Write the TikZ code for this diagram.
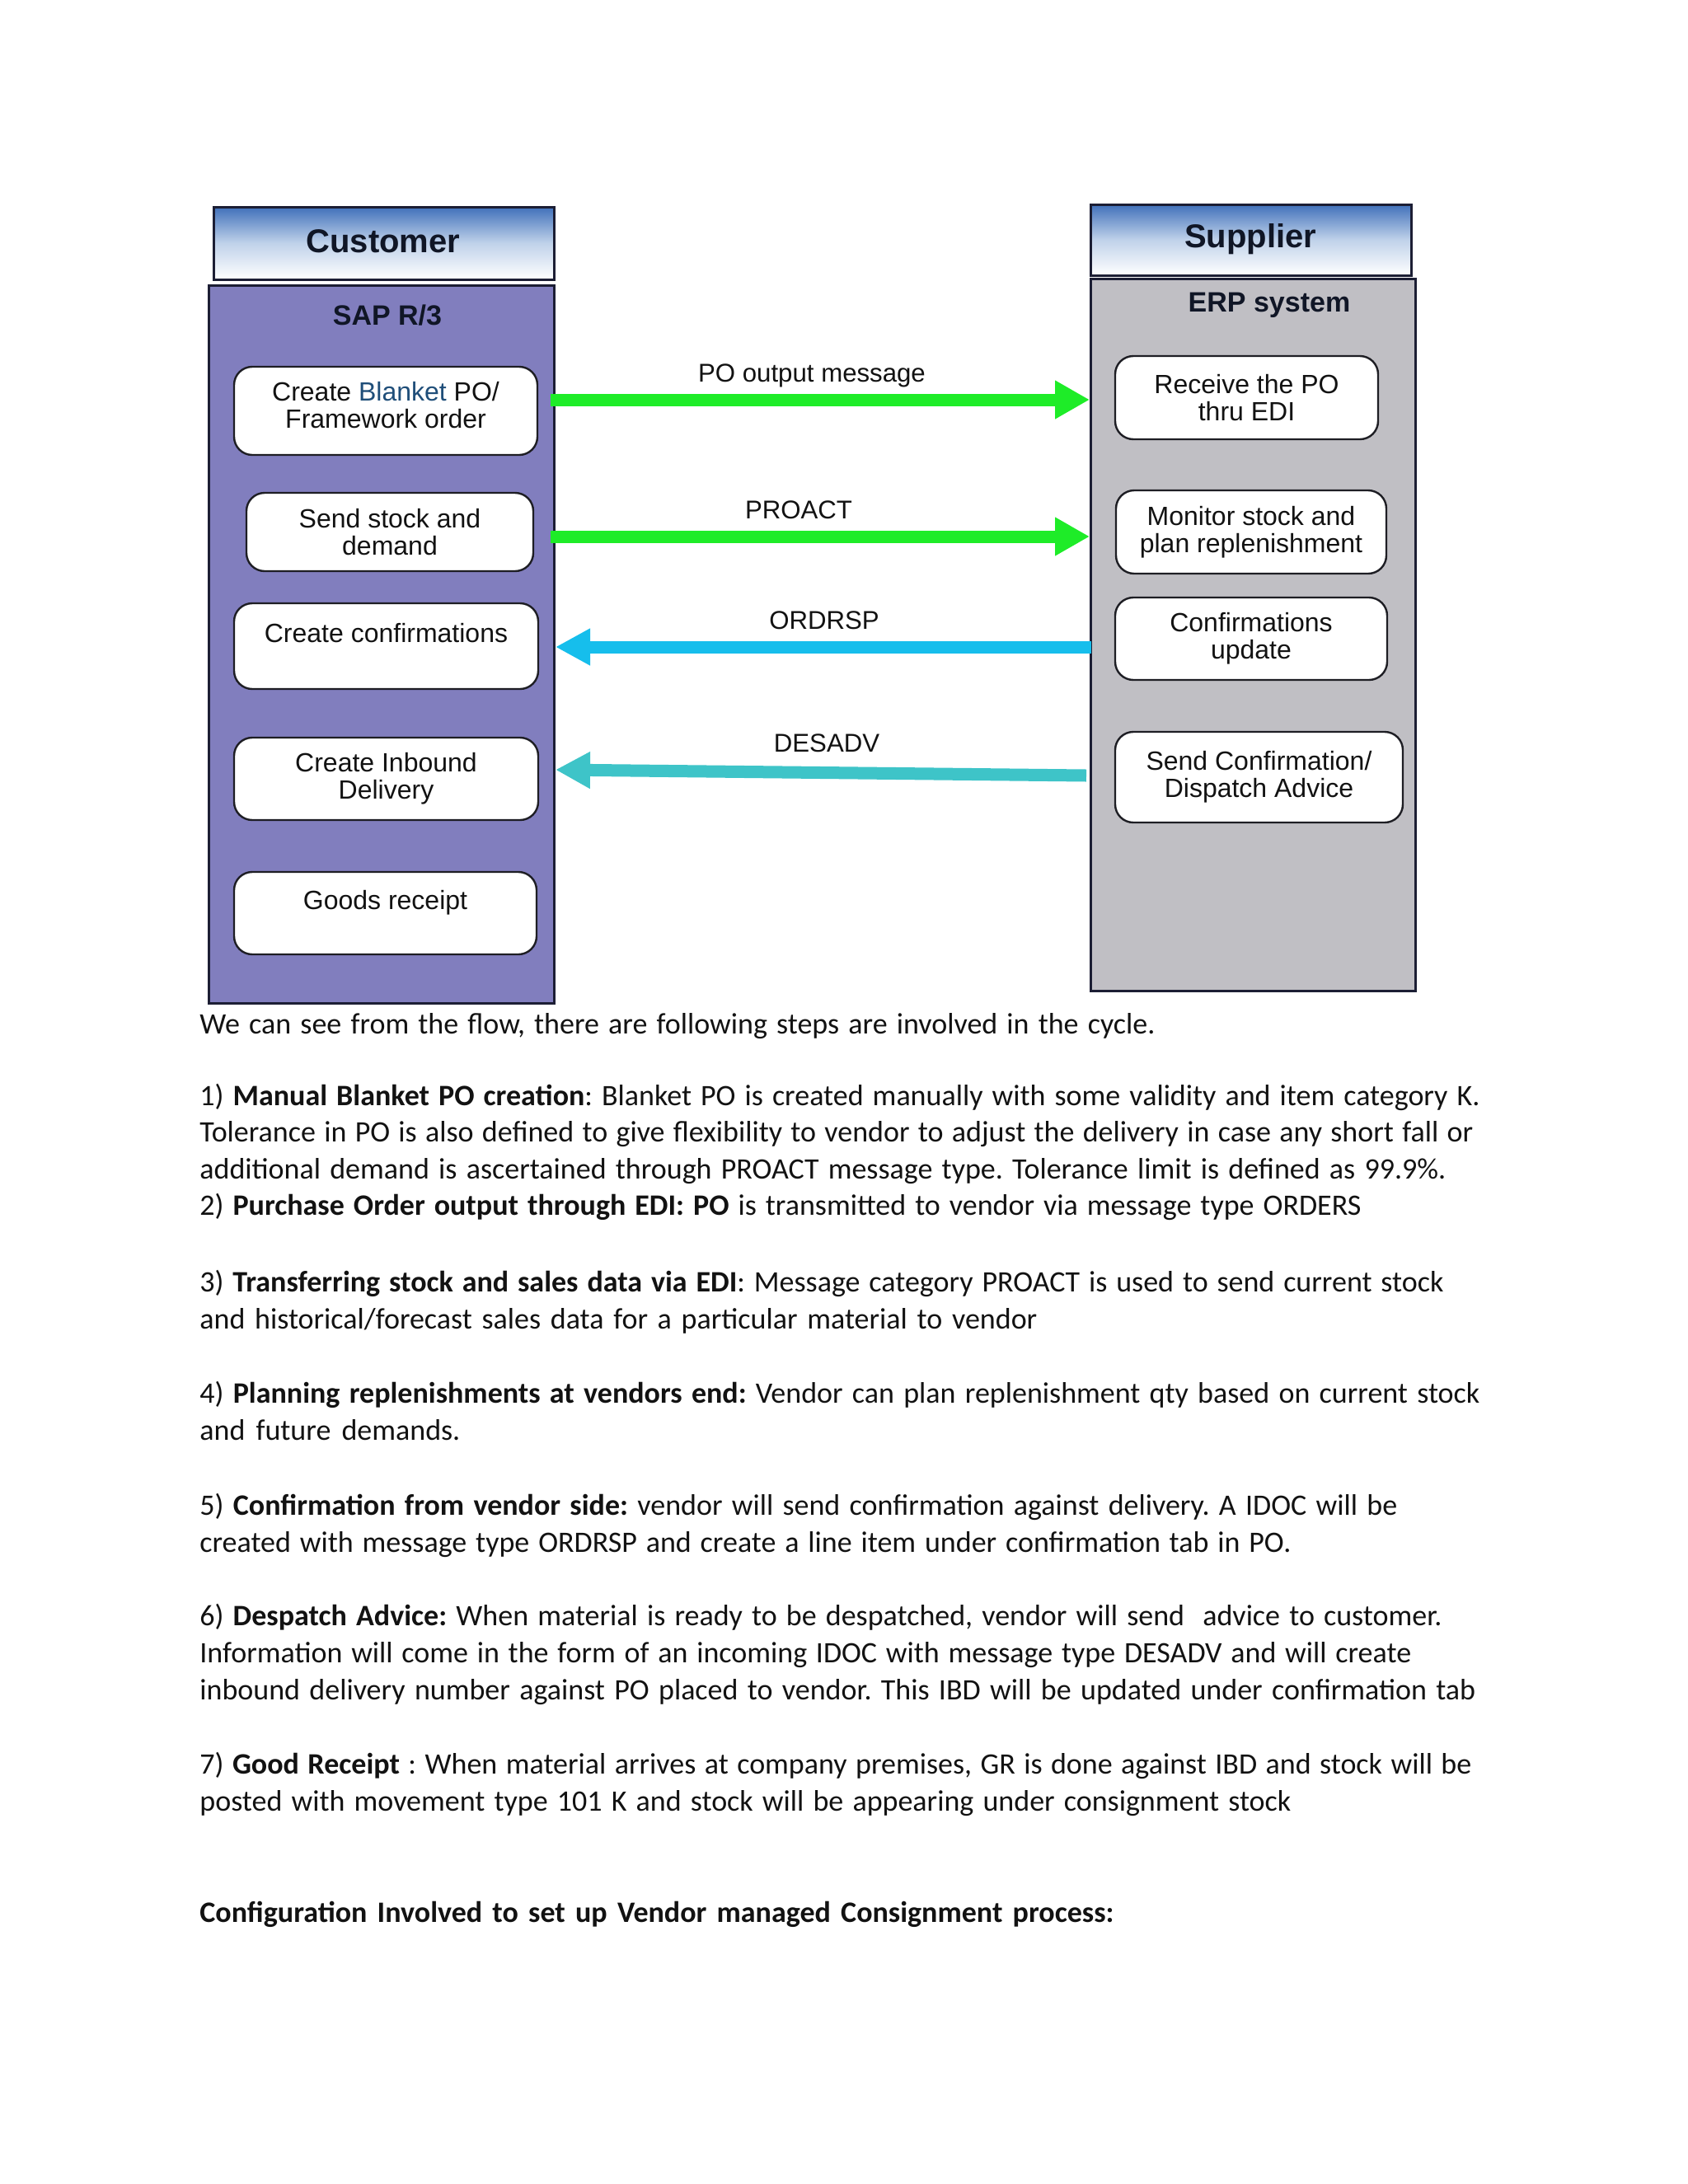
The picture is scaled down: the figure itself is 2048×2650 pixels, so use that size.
\documentclass[tikz,border=0pt]{standalone}
\usepackage{fontspec}
\setmainfont{Carlito}
\newfontfamily\arialf{Liberation Sans}
\usetikzlibrary{arrows.meta}
\definecolor{purp}{RGB}{129,126,190}
\definecolor{greyp}{RGB}{192,191,196}
\definecolor{panline}{RGB}{28,30,52}
\definecolor{boxline}{RGB}{30,30,36}
\definecolor{hblue}{RGB}{64,112,186}
\definecolor{hmid}{RGB}{192,210,234}
\definecolor{hdrtext}{RGB}{16,22,38}
\definecolor{blk}{RGB}{18,18,18}
\definecolor{blanketblue}{RGB}{31,78,121}
\definecolor{arrgreen}{RGB}{30,236,40}
\definecolor{arrblue}{RGB}{22,190,236}
\definecolor{arrteal}{RGB}{62,196,200}
\newdimen\pxu \pxu=0.5pt
\newcommand{\tline}[2]{\hbox to #1\pxu{\frenchspacing\spaceskip=0.12em plus 1fil minus 0.12em\xspaceskip=\spaceskip\relax #2}}
\tikzset{
  panel/.style={draw=panline, line width=1.5pt, inner sep=0pt},
  hdrbox/.style={draw=panline, line width=1.5pt, inner sep=0pt, top color=hblue, bottom color=white, middle color=hmid},
  hdrtxt/.style={font=\arialf\bfseries\fontsize{20}{22}\selectfont, text=hdrtext, inner sep=0pt},
  systxt/.style={font=\arialf\bfseries\fontsize{17}{19}\selectfont, text=hdrtext, inner sep=0pt},
  ibox/.style={draw=boxline, line width=1.2pt, rounded corners=11pt, fill=white, align=center, inner sep=0pt,
    font=\arialf\fontsize{16}{16.5}\selectfont, text=blk},
  btxt/.style={align=center, inner sep=0pt, font=\arialf\fontsize{16}{16.5}\selectfont, text=blk},
  lbl/.style={font=\arialf\fontsize{15.6}{17}\selectfont, text=blk, inner sep=0pt},
  body/.style={anchor=base west, inner sep=0pt, font=\fontsize{18}{21.6}\selectfont, text=blk},
  garrow/.style={line width=7.5pt, draw=arrgreen, -{Triangle[length=21pt,width=22pt]}},
  barrow/.style={line width=7.5pt, draw=arrblue, -{Triangle[length=21pt,width=21pt]}},
  tarrow/.style={line width=7.5pt, draw=arrteal, -{Triangle[length=21pt,width=21pt]}}
}
\begin{document}
\begin{tikzpicture}[x=0.5pt,y=-0.5pt]
\fill[white] (0,0) rectangle (2048,2650);
\useasboundingbox (0,0) rectangle (2048,2650);

% Customer side
\node[hdrbox, minimum width=206.5pt, minimum height=44pt] (custhdr) at (465.5,295) {};
\node[hdrtxt] (custtitle) at (465,293) {Customer};
\node[panel, fill=purp, minimum width=209.5pt, minimum height=435.5pt] (cpanel) at (462.5,781.5) {};
\node[systxt] (saptitle) at (470,383) {SAP R/3};

\node[ibox, minimum width=184pt, minimum height=53.5pt] (cb) at (468,498.5) {};
\node[btxt] (cbtext) at (468,492) {Create \textcolor{blanketblue}{Blanket} PO/\\Framework order};
\node[ibox, minimum width=174pt, minimum height=47.5pt] (cs) at (473,645.5) {Send stock and\\demand};
\node[ibox, minimum width=184.5pt, minimum height=52pt] (cc) at (468.5,784) {Create confirmations\\\mbox{}};
\node[ibox, minimum width=184.5pt, minimum height=50pt] (ci) at (468.5,945) {Create Inbound\\Delivery};
\node[ibox, minimum width=183.5pt, minimum height=50pt] (cg) at (467.5,1108) {Goods receipt\\\mbox{}};

% Supplier side
\node[hdrbox, minimum width=194.5pt, minimum height=43pt] (suphdr) at (1517.5,291) {};
\node[hdrtxt] (suptitle) at (1517,290) {Supplier};
\node[panel, fill=greyp, minimum width=197pt, minimum height=432pt] (spanel) at (1520,770) {};
\node[systxt] (erptitle) at (1540,370) {ERP system};

\node[ibox, minimum width=159.5pt, minimum height=50.5pt] (sr) at (1512.5,482.5) {Receive the PO\\thru EDI};
\node[ibox, minimum width=164pt, minimum height=50.5pt] (sm) at (1518,645.5) {Monitor stock and\\plan replenishment};
\node[ibox, minimum width=165pt, minimum height=50pt] (sc) at (1518,775) {Confirmations\\update};
\node[ibox, minimum width=174.5pt, minimum height=55pt] (sd) at (1527.5,943) {Send Confirmation/\\Dispatch Advice};

% Arrows
\coordinate (a1s) at (668,485);  \coordinate (a1e) at (1322,485);
\coordinate (a2s) at (668,651);  \coordinate (a2e) at (1322,651);
\coordinate (a3s) at (1324,785); \coordinate (a3e) at (674,785);
\coordinate (a4s) at (1318,941); \coordinate (a4e) at (674,934);
\draw[garrow] (a1s) -- (a1e);
\draw[garrow] (a2s) -- (a2e);
\draw[barrow] (a3s) -- (a3e);
\draw[tarrow] (a4s) -- (a4e);
\node[lbl] (l1) at (985,456) {PO output message};
\node[lbl] (l2) at (969,619) {PROACT};
\node[lbl] (l3) at (1000,753) {ORDRSP};
\node[lbl] (l4) at (1003,902) {DESADV};

% Body text
\node[body] (t0) at (242,1254) {\tline{1159}{We can see from the flow, there are following steps are involved in the cycle.}};
\node[body] (t1) at (242,1341) {\tline{1553}{1) \textbf{Manual Blanket PO creation}: Blanket PO is created manually with some validity and item category K.}};
\node[body] (t2) at (242,1385) {\tline{1545}{Tolerance in PO is also defined to give flexibility to vendor to adjust the delivery in case any short fall or}};
\node[body] (t3) at (242,1430) {\tline{1512}{additional demand is ascertained through PROACT message type. Tolerance limit is defined as 99.9\%.}};
\node[body] (t4) at (242,1474) {\tline{1409}{2) \textbf{Purchase Order output through EDI: PO} is transmitted to vendor via message type ORDERS}};
\node[body] (t5) at (242,1567) {\tline{1509}{3) \textbf{Transferring stock and sales data via EDI}: Message category PROACT is used to send current stock}};
\node[body] (t6) at (242,1612) {\tline{1016}{and historical/forecast sales data for a particular material to vendor}};
\node[body] (t7) at (242,1702) {\tline{1553}{4) \textbf{Planning replenishments at vendors end:} Vendor can plan replenishment qty based on current stock}};
\node[body] (t8) at (242,1747) {\tline{316}{and future demands.}};
\node[body] (t9) at (242,1838) {\tline{1453}{5) \textbf{Confirmation from vendor side:} vendor will send confirmation against delivery. A IDOC will be}};
\node[body] (t10) at (242,1883) {\tline{1324}{created with message type ORDRSP and create a line item under confirmation tab in PO.}};
\node[body] (t11) at (242,1972) {\tline{1507}{6) \textbf{Despatch Advice:} When material is ready to be despatched, vendor will send\ \ advice to customer.}};
\node[body] (t12) at (242,2017) {\tline{1470}{Information will come in the form of an incoming IDOC with message type DESADV and will create}};
\node[body] (t13) at (242,2062) {\tline{1548}{inbound delivery number against PO placed to vendor. This IBD will be updated under confirmation tab}};
\node[body] (t14) at (242,2152) {\tline{1543}{7) \textbf{Good Receipt} : When material arrives at company premises, GR is done against IBD and stock will be}};
\node[body] (t15) at (242,2197) {\tline{1324}{posted with movement type 101 K and stock will be appearing under consignment stock}};
\node[body] (t16) at (242,2332) {\tline{1109}{\textbf{Configuration Involved to set up Vendor managed Consignment process:}}};
\end{tikzpicture}
\end{document}
